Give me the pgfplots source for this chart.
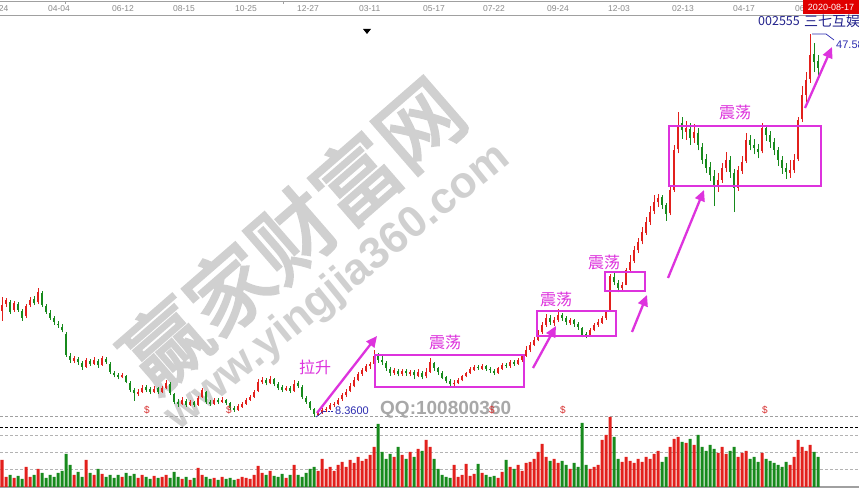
\documentclass[border=0pt]{standalone}
\usepackage{fontspec}
\setmainfont{Liberation Sans}
\newfontfamily\cjk{Noto Sans CJK SC}
\newfontfamily\cjkb[FakeBold=3]{Noto Sans CJK SC}
\usepackage{pgfplots}
\usepackage{pgfplotstable}
\pgfplotsset{compat=1.18}
\usetikzlibrary{arrows.meta}
\definecolor{upred}{HTML}{E2201C}
\definecolor{dngreen}{HTML}{178A1C}
\definecolor{mag}{HTML}{DD33DD}
\definecolor{wm}{HTML}{D0D0D0}
\definecolor{navy}{HTML}{22228C}
\definecolor{lbl}{HTML}{2C2CB0}
\definecolor{dategray}{HTML}{8A8A8A}
\definecolor{qqgray}{HTML}{A8A8A8}
\definecolor{dollar}{HTML}{D83030}
\definecolor{gridgray}{HTML}{A0A0A0}

% daily candles: open high low close volume
\pgfplotstableread{
o h l c v
19.20 20.60 18.20 19.81 27
19.90 20.55 19.60 20.32 10
20.10 20.30 18.90 19.09 12
19.30 20.20 19.10 20.01 9
19.90 20.10 19.10 19.30 11
19.20 19.40 18.20 18.48 8
18.70 19.90 18.50 19.70 20
19.80 20.60 19.60 20.32 10
20.40 20.70 19.80 20.01 12
20.10 21.50 19.90 21.14 18
21.00 21.20 19.60 19.81 14
19.70 19.90 18.90 19.09 9
19.00 19.30 18.30 18.48 12
18.50 18.70 17.80 18.07 10
17.90 18.20 17.50 17.76 14
17.60 17.90 17.00 17.25 16
16.80 17.00 14.50 14.70 33
14.60 14.90 13.90 14.19 22
14.10 14.60 13.90 14.39 12
14.30 14.50 13.70 13.98 15
13.90 14.10 13.20 13.47 10
13.50 14.40 13.40 14.19 27
14.10 14.30 13.60 13.78 14
13.80 14.50 13.70 14.19 12
14.10 14.30 13.40 13.67 18
13.70 14.60 13.60 14.39 13
14.30 14.50 13.80 13.98 10
13.80 14.00 12.80 12.96 12
12.90 13.10 12.40 12.65 9
12.70 12.90 12.20 12.45 12
12.40 12.90 12.30 12.65 10
12.50 12.70 11.80 11.94 14
11.80 12.00 10.90 11.12 11
11.10 11.30 10.00 10.81 13
10.70 11.20 10.50 10.92 9
10.90 11.60 10.80 11.32 12
11.40 11.60 10.90 11.12 10
11.20 11.40 10.70 10.92 8
10.90 11.50 10.80 11.22 11
11.30 11.40 10.70 10.92 9
10.90 11.50 10.80 11.32 10
11.30 12.10 11.20 11.83 12
11.70 11.90 10.60 10.81 9
10.70 10.80 9.70 9.89 15
9.90 10.20 9.40 9.69 10
9.70 10.40 9.60 10.10 8
10.00 10.20 9.40 9.59 10
9.60 10.10 9.50 9.89 7
9.90 10.00 9.40 9.59 9
9.60 10.50 9.50 10.30 19
10.40 11.30 10.30 11.12 12
10.90 11.00 9.70 9.89 10
9.90 10.10 9.50 9.69 8
9.70 10.30 9.60 10.10 9
10.10 10.30 9.70 9.89 7
9.90 10.40 9.80 10.10 10
10.10 10.20 9.60 9.79 8
9.80 9.90 9.10 9.28 9
9.30 9.50 8.90 9.08 7
9.10 9.70 9.00 9.48 8
9.40 9.90 9.30 9.69 10
9.70 10.30 9.60 10.10 9
10.10 10.60 10.00 10.40 8
10.40 11.10 10.30 10.92 12
11.00 12.20 10.90 11.94 21
11.90 12.40 11.70 12.14 14
12.10 12.30 11.60 11.83 12
11.80 12.50 11.70 12.24 16
12.20 12.30 11.50 11.73 11
11.70 11.90 11.10 11.32 10
11.40 11.60 10.90 11.12 13
11.10 11.50 11.00 11.32 9
11.30 11.50 10.80 11.02 12
11.00 12.10 10.90 11.73 22
11.80 12.00 11.30 11.53 12
11.40 11.60 10.20 10.40 10
10.30 10.50 9.70 9.89 14
9.90 10.00 9.10 9.28 18
9.20 9.30 8.36 8.67 20
8.60 9.10 8.50 8.87 16
8.80 9.30 8.70 9.08 28
9.10 9.40 8.90 9.18 18
9.20 9.80 9.10 9.59 20
9.60 9.90 9.40 9.69 16
9.70 10.30 9.60 10.10 22
10.20 10.80 10.00 10.61 25
10.60 11.20 10.40 10.92 20
11.00 11.80 10.90 11.53 27
11.50 12.40 11.40 12.14 24
12.10 13.00 12.00 12.75 30
12.80 13.40 12.60 13.16 26
13.10 13.80 13.00 13.57 28
13.60 14.00 13.30 13.78 32
13.80 15.20 13.70 14.59 40
14.60 14.90 13.90 14.19 63
14.20 14.60 13.70 13.98 35
13.90 14.10 13.10 13.37 28
13.30 13.50 12.60 12.86 33
12.90 13.40 12.70 13.16 30
13.10 13.30 12.50 12.75 40
12.80 13.30 12.60 13.06 32
13.10 13.30 12.60 12.86 28
12.80 13.20 12.50 12.96 35
13.00 13.20 12.20 12.65 30
12.60 13.30 12.40 12.96 38
12.90 13.10 12.20 12.45 36
12.50 13.40 12.30 12.96 47
13.00 14.40 12.90 13.98 40
13.90 14.00 13.10 13.37 28
13.40 13.50 12.70 12.96 18
12.90 13.10 12.20 12.35 12
12.40 12.50 11.80 12.04 10
12.00 12.20 11.50 11.73 9
11.70 12.10 11.40 11.83 22
11.80 12.30 11.70 12.14 10
12.10 12.70 12.00 12.55 12
12.50 13.00 12.40 12.86 23
12.90 13.50 12.80 13.27 11
13.20 13.70 13.10 13.47 13
13.50 13.70 13.20 13.37 23
13.30 13.80 13.20 13.57 14
13.60 13.70 13.10 13.27 12
13.30 13.50 12.90 13.16 10
13.10 13.30 12.70 12.86 11
12.90 13.50 12.80 13.37 9
13.30 13.90 13.20 13.67 15
13.70 13.90 13.40 13.57 27
13.60 14.20 13.40 13.98 20
14.00 14.20 13.60 13.78 18
13.80 14.40 13.70 14.19 22
14.20 14.80 14.00 14.59 16
14.60 15.60 14.50 15.21 24
15.20 16.00 15.00 15.72 25
15.70 16.50 15.60 16.23 28
16.20 17.20 16.10 16.94 35
17.00 18.10 16.80 17.76 43
17.80 18.90 17.60 18.48 30
18.50 18.80 17.80 18.07 26
18.00 18.60 17.70 18.27 28
18.30 19.40 18.10 18.78 24
18.80 19.00 18.20 18.48 26
18.50 18.70 17.80 18.07 22
18.00 18.50 17.80 18.27 18
18.30 18.40 17.60 17.86 24
17.90 18.10 17.30 17.56 20
17.50 17.60 16.50 16.74 64
16.80 17.00 16.40 16.64 22
16.70 17.50 16.60 17.25 18
17.20 18.00 17.10 17.76 20
17.80 18.40 17.60 18.07 22
18.00 18.70 17.90 18.48 47
18.50 19.30 18.30 19.09 52
19.20 23.00 19.10 22.77 70
22.70 23.20 21.90 22.16 50
22.10 22.40 21.10 21.54 28
21.50 22.20 21.30 21.85 25
21.90 23.60 21.80 23.38 30
23.40 24.90 23.20 24.20 26
24.30 25.80 24.10 25.43 24
25.40 26.70 25.10 26.25 28
26.30 27.80 26.00 27.27 25
27.20 28.80 27.00 28.29 30
28.30 29.90 28.00 29.31 28
29.40 31.00 29.10 30.33 33
30.30 31.20 29.80 30.74 36
30.80 31.00 29.60 30.03 25
30.00 30.20 28.40 29.11 30
29.20 31.90 29.00 31.56 40
31.60 36.20 31.40 35.65 48
35.70 39.50 35.30 38.20 50
38.40 39.00 36.80 37.69 45
37.50 38.60 36.70 37.90 44
37.80 38.40 36.20 36.87 48
36.90 38.30 36.40 37.49 42
37.40 37.90 35.60 36.16 52
36.00 36.40 34.20 34.63 40
34.70 35.20 33.30 33.81 36
33.90 34.40 32.50 33.09 42
33.00 33.60 29.90 32.07 38
32.00 33.30 31.40 32.58 34
32.60 34.30 32.30 33.81 40
33.80 35.40 33.40 34.63 33
34.60 35.00 32.80 33.40 36
33.30 33.70 29.30 31.76 40
31.80 34.00 31.50 33.60 30
33.50 35.00 33.20 34.42 34
34.50 37.40 34.30 36.67 36
36.70 37.20 35.60 36.16 28
36.20 36.80 35.20 35.85 30
35.80 36.30 34.80 35.44 25
35.50 38.40 35.30 37.90 34
37.90 38.20 36.60 37.18 28
37.20 37.60 35.90 36.47 26
36.50 36.90 35.10 35.65 24
35.60 36.00 34.00 34.63 22
34.60 35.00 33.20 33.81 20
33.80 34.30 32.70 33.40 25
33.30 34.60 32.80 33.60 22
33.60 35.20 33.30 34.63 30
34.70 39.00 34.50 38.71 47
38.80 42.20 38.50 41.27 40
41.30 43.60 40.60 42.80 36
42.90 47.50 42.50 45.36 42
45.50 46.60 43.60 44.64 35
44.70 45.40 42.80 44.03 30
}\kdata

\pgfplotsset{candle/.style={draw=none, mark=none, forget plot,
  error bars/.cd, y dir=plus, y explicit, error mark=none}}

\begin{document}
\begin{tikzpicture}
\useasboundingbox (0,0) rectangle (859pt,494pt);
\fill[white] (0,0) rectangle (859pt,494pt);

% ---------- background layer (pixel coordinates, y downwards) ----------
\begin{scope}[x=1pt,y=-1pt,yshift=494pt]
  % watermark
  \node[rotate=41, text=wm, inner sep=0pt, font=\cjkb\fontsize{84pt}{88pt}\selectfont] at (292,234) {赢家财富网};
  \node[rotate=39, text=wm, inner sep=0pt, font=\bfseries\fontsize{44pt}{48pt}\selectfont] at (338,288) {www.yingjia360.com};
  % top date strip
  \draw[gridgray, line width=0.8pt] (0,1.5) -- (859,1.5);
  \draw[gridgray, line width=0.8pt] (0,15) -- (859,15);
  \draw[gridgray, line width=0.8pt] (65,1.5) -- (65,4) (283,1.5) -- (283,4);
  \foreach \xx/\lab in {-13.5/01-24, 48/04-04, 112/06-12, 173/08-15, 235/10-25, 297/12-27, 359/03-11, 423/05-17, 483/07-22, 547/09-24, 608/12-03, 672/02-13, 733/04-17, 795/06-19}
    \node[anchor=west, inner sep=0pt, text=dategray, font=\fontsize{8.5pt}{9pt}\selectfont] at (\xx,8.5) {\lab};
  \fill[red!88!black] (803,0) rectangle (860,14);
  \node[text=white, inner sep=0pt, font=\fontsize{9pt}{10pt}\selectfont] at (831,7.5) {2020-08-17};
  % separators of the volume pane
  \draw[gridgray, line width=0.8pt, dash pattern=on 3pt off 2pt] (0,416) -- (859,416);
  \draw[black, line width=0.8pt, dash pattern=on 3pt off 2pt] (0,427) -- (859,427);
  \draw[gridgray!80, line width=0.8pt, dash pattern=on 3pt off 2pt] (0,435) -- (859,435);
  \draw[gridgray!80, line width=0.8pt, dash pattern=on 3pt off 2pt] (0,452) -- (859,452);
  \draw[gridgray!80, line width=0.8pt, dash pattern=on 3pt off 2pt] (0,469) -- (859,469);
  \draw[gridgray, line width=2pt] (0,487.5) -- (859,487.5);
  % QQ text
  \node[anchor=west, inner sep=0pt, text=qqgray, font=\bfseries\fontsize{19pt}{20pt}\selectfont] at (380,410) {QQ:100800360};
\end{scope}

% ---------- price pane ----------
\begin{axis}[at={(0pt,78pt)}, anchor=south west, scale only axis,
  width=859pt, height=400pt, xmin=-0.5, xmax=214.25,
  ymin=8.4622, ymax=49.3422, hide axis, clip=false]
  % up candles: wick and body
  \addplot[candle, error bar style={line width=0.6pt, draw=upred}]
    table[x expr=\coordindex, y expr={\thisrow{c}>=\thisrow{o} ? \thisrow{l} : nan},
      y error plus expr={\thisrow{h}-\thisrow{l}}] {\kdata};
  \addplot[candle, error bar style={line width=2.1pt, draw=upred}]
    table[x expr=\coordindex, y expr={\thisrow{c}>=\thisrow{o} ? \thisrow{o} : nan},
      y error plus expr={max(\thisrow{c}-\thisrow{o},0.06)}] {\kdata};
  % down candles: wick and body
  \addplot[candle, error bar style={line width=0.6pt, draw=dngreen}]
    table[x expr=\coordindex, y expr={\thisrow{c}<\thisrow{o} ? \thisrow{l} : nan},
      y error plus expr={\thisrow{h}-\thisrow{l}}] {\kdata};
  \addplot[candle, error bar style={line width=2.1pt, draw=dngreen}]
    table[x expr=\coordindex, y expr={\thisrow{c}<\thisrow{o} ? \thisrow{c} : nan},
      y error plus expr={max(\thisrow{o}-\thisrow{c},0.06)}] {\kdata};
\end{axis}

% ---------- volume pane ----------
\begin{axis}[at={(0pt,7pt)}, anchor=south west, scale only axis,
  width=859pt, height=70pt, xmin=-0.5, xmax=214.25,
  ymin=0, ymax=70, hide axis, clip=false]
  \addplot[ybar, bar width=3pt, bar shift=0pt, fill=upred, draw=none]
    table[x expr=\coordindex, y expr={\thisrow{c}>=\thisrow{o} ? \thisrow{v} : nan}] {\kdata};
  \addplot[ybar, bar width=3pt, bar shift=0pt, fill=dngreen, draw=none]
    table[x expr=\coordindex, y expr={\thisrow{c}<\thisrow{o} ? \thisrow{v} : nan}] {\kdata};
\end{axis}

% ---------- annotations ----------
\begin{scope}[x=1pt,y=-1pt,yshift=494pt]
  \fill[black] (363,29) -- (371,29) -- (367,34) -- cycle;
  \node[anchor=west, inner sep=0pt, text=navy, font=\cjk\fontsize{12.5pt}{13pt}\selectfont] at (758,21) {002555};
  \node[anchor=west, inner sep=0pt, text=navy, font=\cjk\fontsize{14pt}{15pt}\selectfont] at (804,21) {三七互娱};
  \draw[lbl, line width=0.7pt] (812,34) -- (826,34) -- (834,40);
  \node[anchor=west, inner sep=0pt, text=lbl, font=\fontsize{11pt}{12pt}\selectfont] at (836,45) {47.58};
  \draw[lbl, line width=0.7pt] (316,417) -- (324,411);
  \draw[lbl, line width=0.7pt, dash pattern=on 2pt off 1.5pt] (324,411) -- (334,411);
  \node[anchor=west, inner sep=0pt, text=lbl, font=\fontsize{11pt}{12pt}\selectfont] at (335,411) {8.3600};
  \foreach \dx in {147,229,492,563,765}
    \node[text=dollar, inner sep=0pt, font=\fontsize{10pt}{11pt}\selectfont] at (\dx,410) {\$};
  % boxes
  \draw[mag, line width=2.8pt] (375,355) rectangle (524,387);
  \draw[mag, line width=2.8pt] (537,311) rectangle (616,336);
  \draw[mag, line width=2.8pt] (605,272) rectangle (645,291);
  \draw[mag, line width=2.8pt] (669,126) rectangle (821,186);
  % labels
  \foreach \px/\py in {445/342, 556/299, 604/262, 735/112}
    \node[text=mag, inner sep=0pt, font=\cjk\fontsize{16pt}{17pt}\selectfont] at (\px,\py) {震荡};
  \node[text=mag, inner sep=0pt, font=\cjk\fontsize{16pt}{17pt}\selectfont] at (315,367) {拉升};
  % arrows
  \begin{scope}[mag, line width=2.3pt, -{Triangle[length=11pt,width=10pt]}]
    \draw (317,413) -- (377,336);
    \draw (533,368) -- (556,326);
    \draw (632,332) -- (647,295);
    \draw (668,278) -- (704,190);
    \draw (805,108) -- (832,47);
  \end{scope}
\end{scope}
\end{tikzpicture}
\end{document}
